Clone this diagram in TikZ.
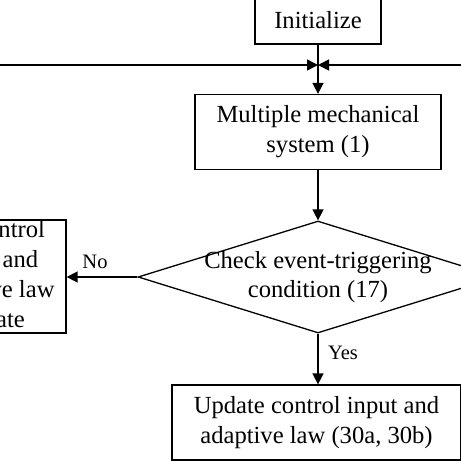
\documentclass[tikz,border=0pt]{standalone}
\usepackage{fontspec}
\setmainfont{Liberation Serif}
\usetikzlibrary{arrows.meta,shapes.geometric}
\begin{document}
\begin{tikzpicture}[x=1pt,y=-1pt,
  box/.style={draw, line width=1.3pt, inner sep=0pt, align=center, font=\fontsize{24.6}{30}\selectfont},
  txt/.style={inner sep=0pt, align=center, font=\fontsize{24.6}{29}\selectfont},
  conn/.style={line width=1.6pt, -{Triangle[length=11pt,width=11pt]}},
  plain/.style={line width=1.6pt},
  lbl/.style={font=\fontsize{20.5}{24}\selectfont, inner sep=0pt}]
\useasboundingbox (0,0) rectangle (461,461);
\clip (0,0) rectangle (461,461);
\node[box, minimum width=126pt, minimum height=48pt] (init) at (318,20) {Initialize};
\coordinate (m) at (318,65);
\coordinate (L) at (-5,65);
\coordinate (R) at (466,65);
\node[box, minimum width=246pt, minimum height=75pt] (sys) at (318,132) {Multiple mechanical\\system (1)};
\node[diamond, draw, line width=1.3pt, minimum width=360pt, minimum height=112pt, inner sep=0pt] (check) at (318,277) {};
\node[txt] (checktext) at (318,277.5) {Check event-triggering\\condition (17)};
\node[box, minimum width=148pt, minimum height=113pt] (nobox) at (-8,276.5) {No control\\input and\\adaptive law\\update};
\node[box, minimum width=289pt, minimum height=75pt] (upd) at (316.5,422.5) {Update control input and\\adaptive law (30a, 30b)};
\draw[plain] (init) -- (m);
\draw[conn] (L) -- (m);
\draw[conn] (R) -- (m);
\draw[conn] (m) -- (sys);
\draw[conn] (sys) -- (check);
\draw[conn] (check.west) -- (check.west -| nobox.east);
\draw[conn] (check.south) -- (check.south |- upd.north);
\node[lbl] (no) at (95,262) {No};
\node[lbl] (yes) at (343,353) {Yes};
\end{tikzpicture}
\end{document}
